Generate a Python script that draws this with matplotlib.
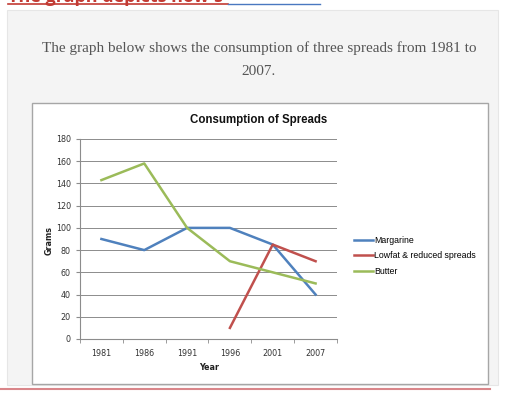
import numpy as np
import matplotlib
matplotlib.use("Agg")
import matplotlib.pyplot as plt
from matplotlib.patches import Rectangle
from matplotlib.lines import Line2D

years = ["1981", "1986", "1991", "1996", "2001", "2007"]
margarine = [90, 80, 100, 100, 85, 40]
lowfat = [np.nan, np.nan, np.nan, 10, 85, 70]
butter = [143, 158, 100, 70, 60, 50]
series_names = ["Margarine", "Lowfat & reduced spreads", "Butter"]

W, H = 512, 409
fig = plt.figure(figsize=(W / 100, H / 100), dpi=100)

def box(x0, y0, x1, y1):
    # pixel box (top-left origin) -> figure fraction rect
    return [x0 / W, 1 - y1 / H, (x1 - x0) / W, (y1 - y0) / H]

def fx(x):
    return x / W

def fy(y):
    return 1 - y / H

# page background pieces
fig.patches.append(Rectangle((fx(7), fy(385)), (498 - 7) / W, (385 - 10) / H,
                             transform=fig.transFigure, facecolor="#f4f4f4",
                             edgecolor="#e6e6e6", lw=0.8, zorder=0))
fig.patches.append(Rectangle((fx(32), fy(384)), (488 - 32) / W, (384 - 103) / H,
                             transform=fig.transFigure, facecolor="white",
                             edgecolor="#a6a6a6", lw=1.0, zorder=1))
fig.lines.append(Line2D([fx(0), fx(490)], [fy(389), fy(389)], transform=fig.transFigure,
                        color="#d9868a", lw=1.5))
fig.lines.append(Line2D([fx(8), fx(228)], [fy(3.5), fy(3.5)], transform=fig.transFigure,
                        color="#c23b34", lw=1.2))
fig.lines.append(Line2D([fx(228), fx(320)], [fy(3.5), fy(3.5)], transform=fig.transFigure,
                        color="#4a78c0", lw=1.0))

# heading, mostly cut off by the top edge as in the screenshot
fig.text(fx(8), fy(2), "The graph depicts how's", color="#c23b34", fontsize=13,
         fontweight="bold", family="Open Sans", va="baseline", ha="left")

fig.text(fx(259), fy(52), "The graph below shows the consumption of three spreads from 1981 to",
         family="Liberation Serif", fontsize=11, color="#555555", ha="center", va="baseline")
fig.text(fx(259), fy(75), "2007.", family="Liberation Serif", fontsize=11,
         color="#555555", ha="center", va="baseline")

ax = fig.add_axes(box(80, 139, 337, 339))
ax.set_zorder(2)
ax.patch.set_alpha(0)
x = np.arange(len(years))
colors = ["#4f81bd", "#c0504d", "#9bbb59"]
for vals, c, name in zip([margarine, lowfat, butter], colors, series_names):
    ax.plot(x, vals, color=c, lw=1.8, label=name)

ax.set_xlim(-0.5, len(years) - 0.5)
ax.set_ylim(0, 180)
ax.set_yticks(np.arange(0, 181, 20))
ax.set_xticks(x)
ax.set_xticklabels(years)
ax.set_xticks(np.arange(-0.5, len(years), 1), minor=True)
ax.grid(axis="y", color="#8c8c8c", lw=0.7)
ax.set_axisbelow(True)
for s in ["top", "right"]:
    ax.spines[s].set_visible(False)
for s in ["left", "bottom"]:
    ax.spines[s].set_color("#8c8c8c")
    ax.spines[s].set_linewidth(0.8)
ax.tick_params(axis="y", length=3, color="#8c8c8c", labelsize=5.8, labelcolor="#333333", pad=3.5)
ax.tick_params(axis="x", which="major", length=0, labelsize=5.8, labelcolor="#333333", pad=7)
ax.tick_params(axis="x", which="minor", length=3, color="#8c8c8c")
for lab in ax.get_xticklabels() + ax.get_yticklabels():
    lab.set_family("DejaVu Sans")

fig.text(fx(259), fy(123), "Consumption of Spreads", fontsize=8.3, fontweight="bold",
         family="Liberation Sans", ha="center", va="baseline", color="#111111")
fig.text(fx(209), fy(370), "Year", fontsize=5.8, fontweight="bold",
         family="DejaVu Sans", ha="center", va="baseline", color="#222222")
fig.text(fx(49), fy(240), "Grams", fontsize=5.8, fontweight="bold", rotation=90,
         family="DejaVu Sans", ha="center", va="center", color="#222222")

fig.legend(loc="center left", bbox_to_anchor=(fx(350), fy(256)), frameon=False,
           prop={"family": "Liberation Sans", "size": 6.3}, handlelength=2.1,
           handletextpad=0.2, labelspacing=0.75, borderpad=0)

fig.savefig("out.png", dpi=100)
